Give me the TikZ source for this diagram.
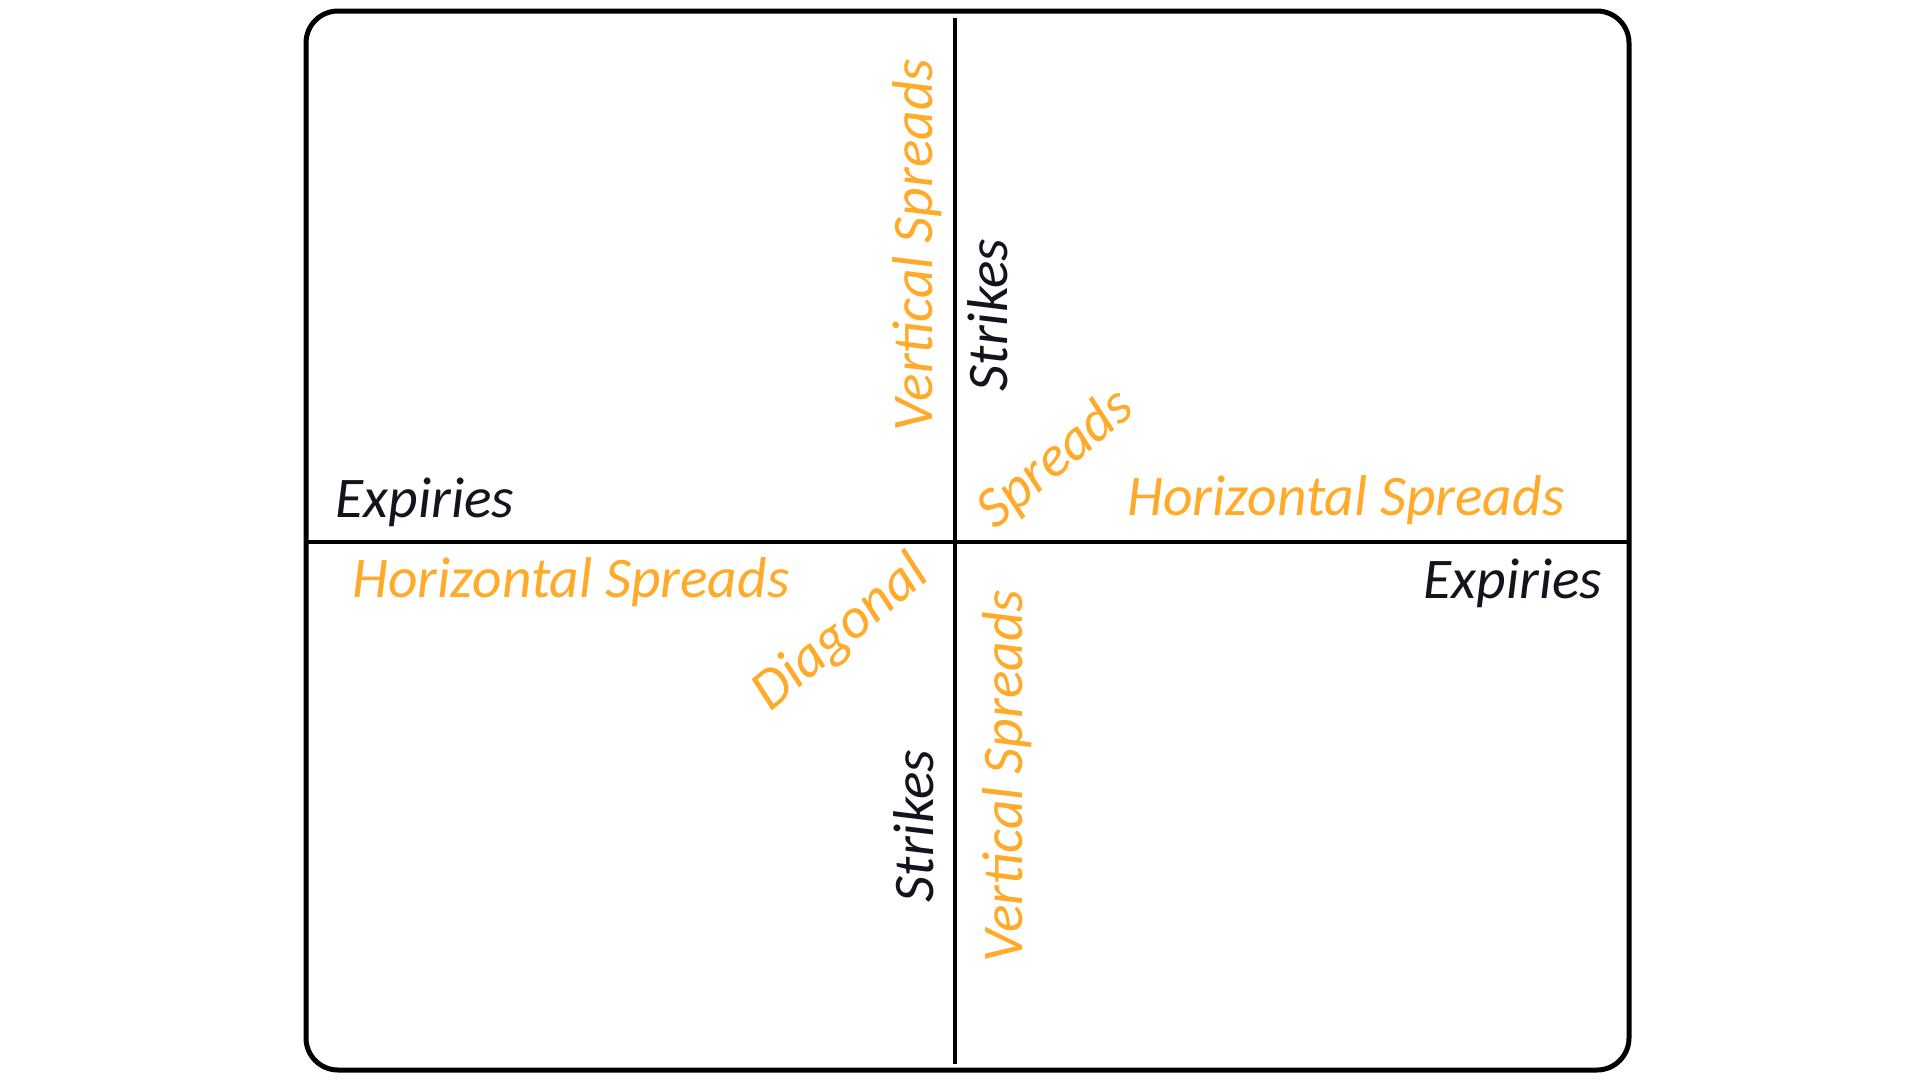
\documentclass[tikz,border=0pt]{standalone}
\usepackage{fontspec}
\setmainfont{Carlito}
\definecolor{spreadorange}{RGB}{255,170,40}
\definecolor{axisblack}{RGB}{20,20,30}
\begin{document}
\begin{tikzpicture}[x=1pt,y=-1pt,
  lbl/.style={font=\fontsize{57.5}{62}\selectfont\itshape, inner sep=0pt, anchor=base},
  orangelbl/.style={lbl, text=spreadorange},
  blacklbl/.style={lbl, text=axisblack},
  frameline/.style={line width=5pt, draw=black},
  axisline/.style={line width=4.5pt, draw=black}]
\useasboundingbox (0,0) rectangle (1920,1080);
\fill[white] (0,0) rectangle (1920,1080);
% frame
\draw[frameline, rounded corners=32pt] (306,11) rectangle (1629,1070);
% axes
\coordinate (vtop) at (955,18);
\coordinate (vbot) at (955,1064);
\coordinate (hleft) at (306,542);
\coordinate (hright) at (1629,542);
\draw[axisline] (hleft) -- (hright);
\draw[axisline] (vtop) -- (vbot);
% labels
\node[blacklbl] (exptl) at (425,517) {Expiries};
\node[orangelbl] (hsll) at (571,597) {Horizontal Spreads};
\node[orangelbl] (hsur) at (1346,515) {Horizontal Spreads};
\node[blacklbl] (explr) at (1513,598) {Expiries};
\node[orangelbl, rotate=90] (vsul) at (932,245) {Vertical Spreads};
\node[blacklbl, rotate=90] (stur) at (1007,315) {Strikes};
\node[blacklbl, rotate=90] (stll) at (933,826) {Strikes};
\node[orangelbl, rotate=90] (vslr) at (1022,776) {Vertical Spreads};
\node[orangelbl, rotate=40] (diag) at (851,645) {Diagonal};
\node[orangelbl, rotate=40] (spr) at (1066,471) {Spreads};
\end{tikzpicture}
\end{document}
